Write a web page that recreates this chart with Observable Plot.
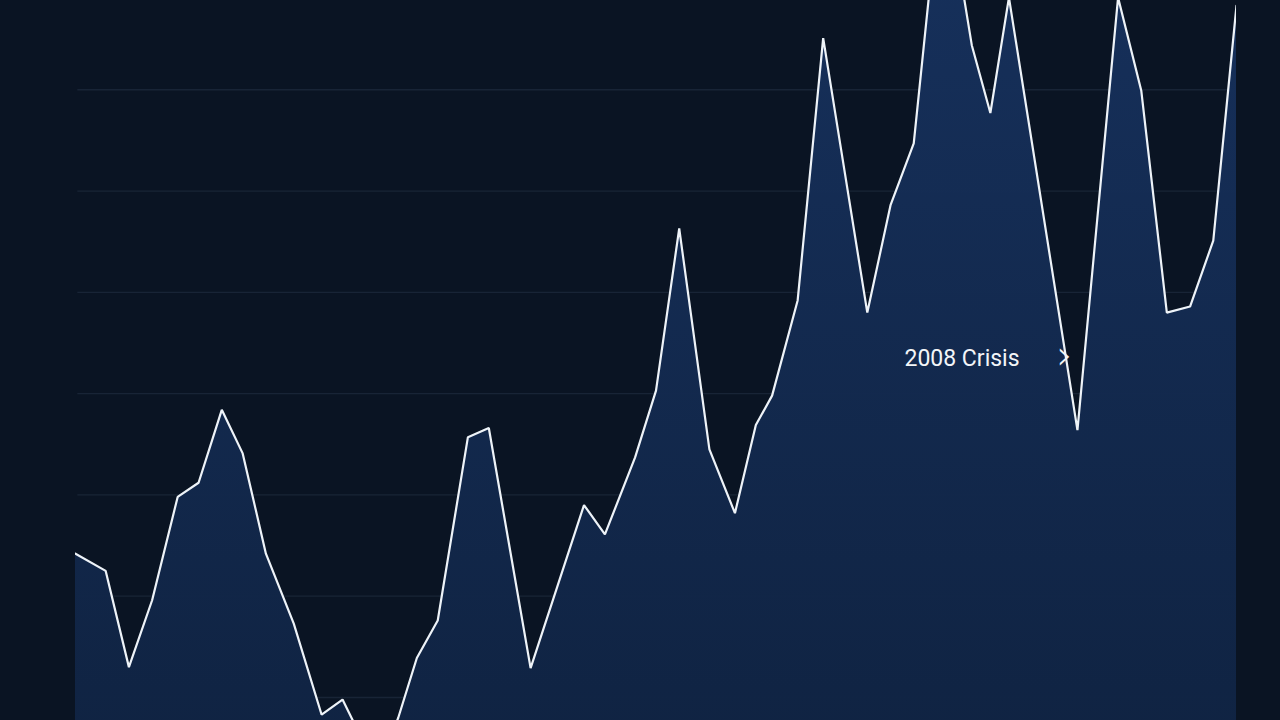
<!DOCTYPE html>
<html>
<head>
<meta charset="utf-8">
<script src="https://cdn.jsdelivr.net/npm/d3@7"></script>
<script src="https://cdn.jsdelivr.net/npm/@observablehq/plot@0.6"></script>
<style>
  html, body { margin: 0; padding: 0; background: #0a1423; overflow: hidden; }
  #chart svg { display: block; }
</style>
</head>
<body>
<div id="chart"></div>
<script>
// Series (x as decimal year, y as index value)
const years = [1965.0, 1966.3, 1967.3, 1968.3, 1969.4, 1970.3, 1971.3, 1972.2, 1973.2, 1974.4,
  1975.6, 1976.5, 1978.0, 1978.9, 1979.7, 1980.6, 1981.9, 1982.8, 1984.6, 1986.9,
  1987.8, 1989.1, 1990.0, 1991.0, 1992.3, 1993.4, 1994.3, 1995.0, 1996.1, 1997.2,
  1999.1, 2000.1, 2001.1, 2002.0, 2003.0, 2003.6, 2004.4, 2005.2, 2008.15, 2009.9,
  2010.9, 2012.0, 2013.0, 2014.0, 2015.0];
const values = [34.2, 32.5, 23.0, 29.6, 39.8, 41.2, 48.4, 44.1, 34.2, 27.3,
  18.3, 19.8, 12.8, 18.0, 23.9, 27.6, 45.7, 46.6, 22.9, 39.0,
  36.1, 43.7, 50.3, 66.3, 44.5, 38.2, 46.9, 49.8, 59.2, 85.1,
  58.0, 68.6, 74.7, 94.7, 92.8, 84.4, 77.7, 89.1, 46.4, 89.1,
  79.9, 58.0, 58.6, 65.1, 88.3];
const gridValues = [20, 30, 40, 50, 60, 70, 80];
const annotationLabels = ["2008 Crisis"];
const annotationYears = [2000.7];
const annotationValues = [53.5];
const pointerGlyphs = ["\u203A"];
const pointerYears = [2007.6];

const data = years.map((year, i) => ({year, value: values[i]}));
const annotations = annotationLabels.map((label, i) => ({label, year: annotationYears[i], value: annotationValues[i]}));
const pointers = pointerGlyphs.map((g, i) => ({g, year: pointerYears[i], value: annotationValues[i]}));

const plot = Plot.plot({
  width: 1280,
  height: 720,
  marginLeft: 75,
  marginRight: 44,
  marginTop: 0,
  marginBottom: 0,
  style: {background: "transparent"},
  x: {domain: [1965, 2015], axis: null},
  y: {domain: [17.73, 88.81], axis: null},
  marks: [
    Plot.ruleY(gridValues, {x1: 1965.1, x2: 2015, stroke: "#182436", strokeWidth: 1.3}),
    Plot.areaY(data, {x: "year", y: "value", fill: "url(#areaGrad)", fillOpacity: 0.97, clip: true}),
    Plot.lineY(data, {x: "year", y: "value", stroke: "#eef3f8", strokeWidth: 2.2, strokeLinejoin: "miter", clip: true}),
    Plot.text(annotations, {x: "year", y: "value", text: "label", textAnchor: "start", fill: "#f2f5f8", fontSize: 23, fontFamily: "Roboto, 'Noto Sans', sans-serif"}),
    Plot.text(pointers, {x: "year", y: "value", text: "g", textAnchor: "middle", fill: "#f2f5f8", fontSize: 40, fontWeight: 300, dy: -2, fontFamily: "'DejaVu Sans', sans-serif"})
  ]
});

const svg = d3.select(plot);
const defs = svg.insert("defs", ":first-child");
const grad = defs.append("linearGradient")
  .attr("id", "areaGrad")
  .attr("gradientUnits", "userSpaceOnUse")
  .attr("x1", 0).attr("y1", 0).attr("x2", 0).attr("y2", 720);
grad.append("stop").attr("offset", 0).attr("stop-color", "#16305b");
grad.append("stop").attr("offset", 1).attr("stop-color", "#102444");

document.getElementById("chart").appendChild(plot);
</script>
</body>
</html>
